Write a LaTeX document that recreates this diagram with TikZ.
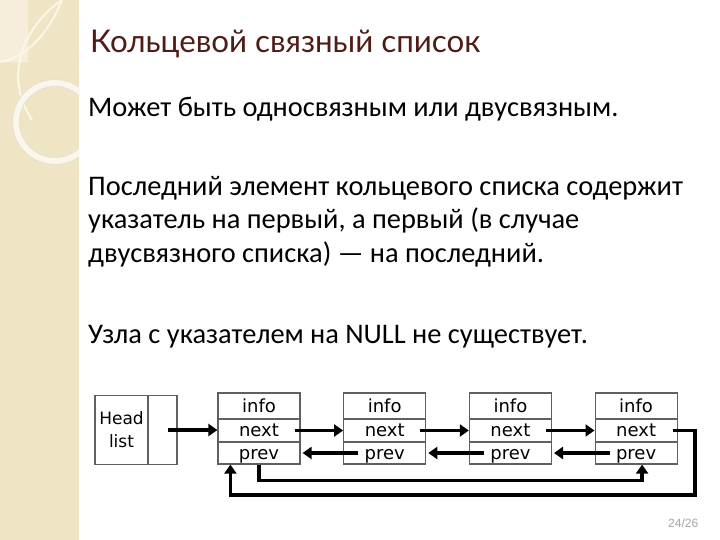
\documentclass[tikz,border=0pt]{standalone}
\usepackage{fontspec}
\setmainfont{Carlito}
\newfontfamily\titlefont{Lato}
\newfontfamily\diagfont{DejaVu Sans}
\newfontfamily\numfont{Liberation Sans}
\usetikzlibrary{arrows.meta,positioning}

\definecolor{stripbg}{HTML}{EFE4C4}
\definecolor{striplight}{HTML}{F6EEDA}
\definecolor{ringcol}{HTML}{FAF6EA}
\definecolor{titlecol}{HTML}{4F1C16}

\begin{document}
\begin{tikzpicture}
  [x=1pt,y=-1pt,
   every node/.style={inner sep=0pt},
   body/.style={anchor=base west,font=\fontsize{28.4}{33}\selectfont},
   cell/.style={draw=gray!75!black,line width=1.2pt,fill=white,minimum width=82pt,
     text height=13pt,text depth=1pt,font=\diagfont\fontsize{18}{18}\selectfont},
   ptr/.style={line width=3.5pt,-{Triangle[length=9pt,width=12pt]}}]
  \useasboundingbox (0,0) rectangle (720,540);
  \fill[white] (0,0) rectangle (720,540);

  % left strip
  \fill[stripbg] (0,0) rectangle (79,540);
  \fill[striplight] (0,0) rectangle (28,62);
  \begin{scope}
    \clip (0,0) rectangle (79,540);
    \draw[ringcol,line width=2pt] (62,0) .. controls (25,25) and (2,75) .. (32,120);
    \draw[ringcol,line width=2pt] (0,62) .. controls (25,58) and (48,35) .. (62,0);
    \draw[gray!25,line width=7.5pt] (55,122) circle (39);
    \draw[ringcol,line width=6pt] (55,122) circle (39);
  \end{scope}

  % text
  \node[anchor=base west,font=\titlefont\fontsize{31.3}{31}\selectfont,text=titlecol] (title) at (90,53) {Кольцевой связный список};
  \node[body] (l1) at (88,116.7) {Может быть односвязным или двусвязным.};
  \node[body] (l2) at (88,196) {Последний элемент кольцевого списка содержит};
  \node[body] (l3) at (88,229) {указатель на первый, а первый (в случае};
  \node[body] (l4) at (88,262) {двусвязного списка) — на последний.};
  \node[body] (l5) at (88,343) {Узла с указателем на NULL не существует.};

  % list
  \node[cell,minimum width=53pt,minimum height=69pt,align=center,text height=,text depth=,
    font=\diagfont\fontsize{17}{23}\selectfont] (headl) at (121.5,430) {Head\\list};
  \node[cell,minimum width=29pt,minimum height=69pt] (headr) at (162.5,430) {};
  \foreach \k in {1,...,4} {
    \pgfmathsetmacro{\cx}{259+125.7*(\k-1)}
    \node[cell,minimum height=26pt] (n\k-i) at (\cx,406) {info};
    \node[cell,minimum height=23pt] (n\k-n) at (\cx,430.5) {next};
    \node[cell,minimum height=22pt] (n\k-p) at (\cx,453) {prev};
  }

  \draw[ptr] ([xshift=5pt]headr.center) -- (headr.center -| n1-n.west);
  \foreach \a/\b in {1/2,2/3,3/4} {
    \draw[ptr] ([xshift=-6pt]n\a-n.east) -- (n\b-n.west);
    \draw[ptr] ([xshift=15pt]n\b-p.west) -- ([xshift=2pt]n\a-p.east);
  }
  \coordinate (loopr) at (695,495);
  \draw[ptr] (n1-p.south) -- ++(0,16) -| ([xshift=6pt]n4-p.south);
  \draw[ptr] ([xshift=-5pt]n4-n.east) -| (loopr) -| ([xshift=13pt]n1-p.south west);

  \node[anchor=base west,font=\numfont\fontsize{12}{12}\selectfont,text=gray!70] (page) at (668,527) {24/26};
\end{tikzpicture}
\end{document}
